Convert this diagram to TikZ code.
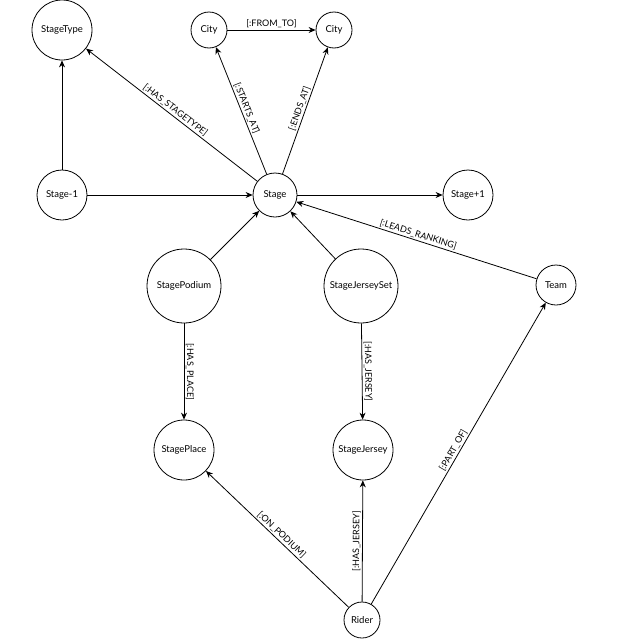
\documentclass[tikz,border=0pt]{standalone}
\usepackage{fontspec}
\setmainfont{Lato}
\usetikzlibrary{arrows.meta}
\begin{document}
\begin{tikzpicture}[x=1pt,y=-1pt,
  nd/.style={circle,draw,thick,inner sep=0pt,font=\fontsize{9.5}{11}\selectfont},
  rel/.style={-{Stealth[length=7pt,width=6pt]},thick},
  lb/.style={sloped,above,inner sep=1.5pt,font=\fontsize{9}{10}\selectfont}]
\useasboundingbox (0,0) rectangle (617,640);
\node[nd,minimum size=60] (stype) at (62,30) {StageType};
\node[nd,minimum size=36] (c1) at (209,30) {City};
\node[nd,minimum size=36] (c2) at (334,30) {City};
\node[nd,minimum size=44] (stage) at (275,195) {Stage};
\node[nd,minimum size=50] (sm1) at (62,195) {Stage-1};
\node[nd,minimum size=50] (sp1) at (468,195) {Stage+1};
\node[nd,minimum size=74] (pod) at (184,286) {StagePodium};
\node[nd,minimum size=74] (jset) at (361,286) {StageJerseySet};
\node[nd,minimum size=40] (team) at (556,285) {Team};
\node[nd,minimum size=60] (place) at (184,450) {StagePlace};
\node[nd,minimum size=60] (jer) at (363,450) {StageJersey};
\node[nd,minimum size=36] (rider) at (362,620) {Rider};
\draw[rel] (sm1) -- (stype);
\draw[rel] (sm1) -- (stage);
\draw[rel] (stage) -- node[lb]{[:HAS\_STAGETYPE]} (stype);
\draw[rel] (stage) -- node[lb]{[:STARTS\_AT]} (c1);
\draw[rel] (stage) -- node[lb]{[:ENDS\_AT]} (c2);
\draw[rel] (c1) -- node[lb]{[:FROM\_TO]} (c2);
\draw[rel] (stage) -- (sp1);
\draw[rel] (pod) -- (stage);
\draw[rel] (jset) -- (stage);
\draw[rel] (team) -- node[lb]{[:LEADS\_RANKING]} (stage);
\draw[rel] (pod) -- node[lb]{[:HAS\_PLACE]} (place);
\draw[rel] (jset) -- node[lb]{[:HAS\_JERSEY]} (jer);
\draw[rel] (rider) -- node[lb]{[:ON\_PODIUM]} (place);
\draw[rel] (rider) -- node[lb]{[:HAS\_JERSEY]} (jer);
\draw[rel] (rider) -- node[lb]{[:PART\_OF]} (team);
\end{tikzpicture}
\end{document}
